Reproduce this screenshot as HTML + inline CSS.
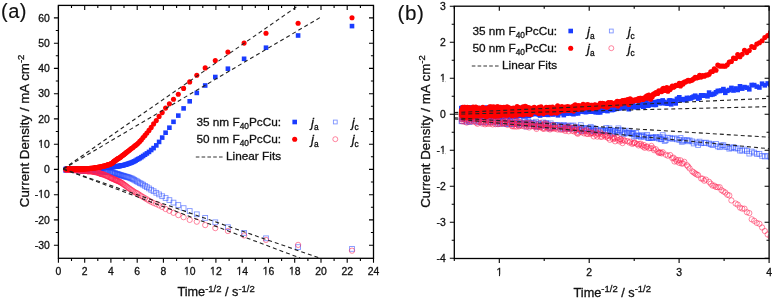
<!DOCTYPE html>
<html><head><meta charset="utf-8"><style>html,body{margin:0;padding:0;background:#fff;width:774px;height:299px;overflow:hidden}
svg{display:block;will-change:transform}
text{font-family:"Liberation Sans", sans-serif;fill:#111;stroke:#111;stroke-width:0.3px}
.tl{font-size:10.4px}
.lg{font-size:11.8px}
.sub{font-size:8.3px}
.sup{font-size:9.5px}
.at{font-size:12.7px}
.at2{font-size:13.3px}
.pl{font-size:20px;letter-spacing:0.5px;stroke-width:0.15px}
</style></head><body>
<svg width="774" height="299" viewBox="0 0 774 299">
<defs><marker id="mbs" markerUnits="userSpaceOnUse" markerWidth="8" markerHeight="8" refX="4" refY="4" overflow="visible"><rect x="1.7000000000000002" y="1.7000000000000002" width="4.6" height="4.6" fill="#1a3cff"/></marker>
<marker id="mrc" markerUnits="userSpaceOnUse" markerWidth="8" markerHeight="8" refX="4" refY="4" overflow="visible"><circle cx="4" cy="4" r="2.55" fill="#ff0000"/></marker>
<marker id="mos" markerUnits="userSpaceOnUse" markerWidth="8" markerHeight="8" refX="4" refY="4" overflow="visible"><rect x="1.6" y="1.6" width="4.8" height="4.8" fill="none" stroke="#2a4cff" stroke-width="0.9" stroke-opacity="0.6"/></marker>
<marker id="moc" markerUnits="userSpaceOnUse" markerWidth="8" markerHeight="8" refX="4" refY="4" overflow="visible"><circle cx="4" cy="4" r="2.65" fill="none" stroke="#ff2050" stroke-width="0.9" stroke-opacity="0.6"/></marker><clipPath id="ca"><rect x="58.3" y="5.3" width="315.4" height="252.7"/></clipPath><clipPath id="cb"><rect x="454.3" y="6" width="314.7" height="252"/></clipPath></defs>
<rect width="774" height="299" fill="#fff"/>
<g clip-path="url(#ca)">
<path fill="none" stroke="none" marker-start="url(#mos)" marker-mid="url(#mos)" marker-end="url(#mos)" d="M352.0 248.9 298.1 247.1 266.0 238.3 244.1 232.9 227.9 227.2 215.3 222.3 205.2 217.9 196.8 214.3 189.7 211.0 183.6 208.1 178.3 205.0 173.5 202.6 169.4 200.1 165.6 198.0 162.2 196.2 159.1 194.4 156.3 192.8 153.6 191.2 151.2 189.8 149.0 188.4 146.9 187.1 145.0 185.9 143.1 184.7 141.4 183.7 139.8 183.1 138.3 182.2 136.9 181.3 135.5 180.6 134.2 179.8 133.0 179.2 131.8 178.5 130.7 178.3 129.6 177.8 128.6 177.3 127.6 177.1 126.7 176.8 125.8 176.6 124.9 176.4 124.0 176.0 123.2 175.8 122.5 175.7 121.7 175.5 121.0 175.2 120.3 175.1 119.6 174.8 119.0 174.6 118.3 174.4 117.7 174.2 117.1 174.0 116.5 173.8 115.4 173.5 114.9 173.3 114.4 173.2 113.4 173.0 112.9 172.7 112.0 172.7 111.6 172.5 110.7 172.3 109.9 172.3 109.5 172.2 108.7 172.1 108.0 172.2 107.3 171.9 106.7 172.0 106.3 171.8 106.0 171.8 105.1 171.8 104.5 171.7 103.7 171.7 103.2 171.5 102.4 171.5 101.7 171.4 101.0 171.4 100.3 171.4 99.7 171.3 98.9 171.2 98.2 171.3 98.0 171.1 97.6 171.2 97.1 171.1 96.9 171.1 96.6 171.2 96.1 171.0 95.8 171.2 95.5 171.0 95.1 171.2 94.8 171.1 94.1 171.0 93.4 171.1 92.6 171.0 92.0 170.9 91.3 170.8 90.6 170.7 89.9 170.7 89.2 170.6 88.9 170.4 88.5 170.7 87.8 170.5 87.6 170.4 87.1 170.4 87.0 170.6 86.4 170.5 86.2 170.4 85.7 170.5 85.7 170.4 85.0 170.5 85.0 170.4 84.3 170.4 84.3 170.5 83.6 170.5 83.6 170.4 82.9 170.4 82.8 170.5 82.2 170.4 81.6 170.5 81.5 170.3 80.9 170.5 80.8 170.2 80.1 170.3 79.4 170.2 78.7 170.1 78.0 170.1 77.3 170.2 76.6 170.0 75.9 170.1 75.2 170.0 74.5 170.2 73.8 169.8 73.1 169.9 72.5 169.7 72.4 170.0 72.3 169.7 71.7 169.9 71.7 169.7 71.0 169.9 71.0 169.7 70.3 169.8 70.3 169.7 69.6 169.7 69.6 169.8 68.9 169.8 68.9 169.7 68.2 169.8 68.2 169.6 67.5 169.8 67.5 169.6 66.8 169.8 66.8 169.6 66.1 169.7 66.1 169.9"/>
<path fill="none" stroke="none" marker-start="url(#mbs)" marker-mid="url(#mbs)" marker-end="url(#mbs)" d="M352.0 26.1 298.1 35.5 266.0 47.7 244.1 58.8 227.9 68.7 215.3 77.0 205.2 85.5 196.8 92.9 189.7 101.3 183.6 108.4 178.3 115.6 173.5 121.8 169.4 127.7 165.6 132.7 162.2 137.6 159.1 141.9 156.3 145.4 153.6 148.1 151.2 150.0 149.0 151.9 146.9 153.4 145.0 154.7 143.1 156.0 141.4 157.2 139.8 158.2 138.3 159.0 136.9 159.7 135.5 160.7 134.2 161.4 133.0 161.9 131.8 162.5 130.7 162.9 129.6 163.2 128.6 163.6 127.6 164.0 126.7 164.2 125.8 164.7 124.9 164.7 124.0 165.1 123.2 165.3 122.5 165.3 121.7 165.5 121.0 165.7 120.3 165.9 119.6 166.0 119.0 166.1 118.3 166.1 117.7 166.2 117.1 166.4 116.5 166.4 115.4 166.7 114.9 166.7 114.4 166.8 113.4 167.0 112.9 167.0 112.0 167.1 111.6 167.1 110.7 167.2 109.9 167.3 109.5 167.5 108.7 167.4 108.0 167.7 107.7 167.5 107.3 167.5 106.7 167.4 106.3 167.7 106.0 167.6 105.7 167.7 105.1 167.7 104.5 167.9 104.2 167.6 103.7 167.8 103.2 167.9 102.4 168.0 101.7 168.1 101.0 168.1 100.3 168.2 99.7 168.2 98.9 168.3 98.7 168.4 98.2 168.3 98.0 168.4 97.6 168.3 97.3 168.6 96.9 168.5 96.1 168.7 95.5 168.5 94.8 168.5 94.1 168.7 93.4 168.8 92.6 168.9 92.0 168.8 91.3 168.9 90.6 168.8 89.9 168.8 89.2 168.9 88.5 169.0 88.2 169.1 87.8 168.9 87.4 169.1 87.1 169.0 87.0 169.1 86.4 169.2 86.1 169.0 85.7 169.1 85.0 169.2 85.0 169.0 84.3 169.1 84.1 169.0 83.6 169.1 83.3 169.0 82.9 169.1 82.6 169.0 82.2 169.3 81.5 169.3 81.2 169.0 80.8 169.3 80.4 169.0 80.1 169.2 79.4 169.2 78.7 169.0 78.7 169.4 78.0 169.3 77.6 169.0 77.3 169.4 76.7 169.0 76.6 169.3 75.9 169.4 75.6 169.0 75.2 169.1 75.1 169.0 74.5 169.1 74.4 169.0 73.8 169.4 73.3 169.0 73.1 169.3 72.9 169.0 72.4 169.3 72.1 169.0 71.7 169.4 71.7 169.0 71.0 169.3 70.8 169.0 70.3 169.1 70.2 169.0 69.6 169.3 69.5 169.0 68.9 169.2 68.9 169.0 68.2 169.4 68.2 169.0 67.5 169.2 67.5 169.0 66.8 169.0 66.8 169.3 66.1 169.2 66.1 169.0"/>
<path fill="none" stroke="none" marker-start="url(#moc)" marker-mid="url(#moc)" marker-end="url(#moc)" d="M352.0 250.7 298.1 244.9 266.0 239.9 244.1 235.5 227.9 231.0 215.3 228.1 205.2 225.1 196.8 221.7 189.7 219.9 183.6 217.2 178.3 215.1 173.5 212.8 169.4 210.8 165.6 209.0 162.2 207.0 159.1 205.4 156.3 204.1 153.6 203.0 151.2 201.8 149.0 200.6 146.9 199.3 145.0 198.2 143.1 197.0 141.4 196.0 139.8 195.1 138.3 194.0 136.9 193.1 135.5 192.6 134.2 191.8 133.0 191.0 131.8 190.1 130.7 189.5 129.6 188.7 128.6 188.0 127.6 187.3 126.7 186.6 125.8 185.9 124.9 185.2 124.0 184.7 123.2 184.1 122.5 183.5 121.7 182.9 121.0 182.6 120.3 182.2 119.6 181.8 119.0 181.4 118.3 181.2 117.7 180.8 117.1 180.7 116.5 180.3 116.0 180.1 115.4 180.0 114.9 179.7 114.4 179.4 113.4 179.0 112.9 178.7 112.0 178.5 111.6 178.3 111.1 178.0 110.7 177.8 109.9 177.3 109.5 177.1 108.7 176.9 108.0 176.3 107.3 176.0 106.7 176.0 106.0 175.7 105.1 175.1 104.5 174.9 103.7 174.5 103.2 174.5 102.4 174.3 101.7 174.0 101.2 173.9 101.0 173.9 100.3 173.6 99.7 173.4 99.3 173.2 98.9 173.0 98.2 172.9 97.6 172.6 96.9 172.4 96.1 172.3 95.5 172.1 94.8 172.1 94.3 171.8 94.1 171.9 94.0 171.8 93.4 171.8 92.6 171.6 92.0 171.5 91.3 171.4 90.6 171.3 89.9 171.3 89.3 171.1 89.2 171.2 88.8 171.0 88.5 171.1 88.4 171.3 87.8 171.1 87.7 171.2 87.1 171.1 86.4 170.8 85.7 170.9 85.0 170.7 84.3 170.7 83.6 170.7 82.9 170.6 82.7 170.3 82.2 170.5 82.1 170.4 81.5 170.6 81.5 170.4 80.8 170.4 80.8 170.5 80.1 170.4 80.0 170.5 79.4 170.3 78.9 170.5 78.7 170.3 78.0 170.4 77.3 170.2 76.6 170.3 75.9 170.2 75.2 170.2 74.5 170.1 73.8 170.0 73.1 169.9 72.4 170.0 71.7 169.9 71.7 169.7 71.0 170.0 70.7 169.7 70.3 169.9 70.3 169.7 69.6 169.9 69.6 169.7 68.9 169.8 68.9 169.7 68.2 169.8 68.2 169.7 67.5 169.7 67.5 169.8 66.8 169.9 66.8 169.7 66.1 169.8 66.1 169.7"/>
<path fill="none" stroke="none" marker-start="url(#mrc)" marker-mid="url(#mrc)" marker-end="url(#mrc)" d="M352.0 17.7 298.1 23.2 266.0 33.2 244.1 43.1 227.9 52.1 215.3 60.6 205.2 67.9 196.8 75.2 189.7 81.9 183.6 88.4 178.3 94.3 173.5 99.2 169.4 103.8 165.6 108.1 162.2 112.6 159.1 116.4 156.3 120.6 153.6 123.9 151.2 127.4 149.0 130.4 146.9 133.0 145.0 135.4 143.1 137.6 141.4 139.8 139.8 141.4 138.3 143.1 136.9 144.2 135.5 145.4 134.2 146.3 133.0 147.5 131.8 148.2 130.7 149.1 129.6 150.1 128.6 150.7 127.6 151.5 126.7 152.2 125.8 152.9 124.9 153.8 124.0 154.4 123.2 155.0 122.5 155.5 121.7 156.0 121.0 156.7 120.3 157.2 119.6 157.7 119.0 158.1 118.3 158.5 117.7 158.9 117.1 159.1 116.5 159.7 116.0 160.1 115.4 160.4 114.9 160.9 114.4 161.2 113.9 161.6 113.4 161.9 112.9 162.5 112.0 163.2 111.6 163.5 110.7 163.9 109.9 164.2 109.5 164.4 108.7 164.7 108.0 164.9 107.3 164.9 106.7 165.4 106.0 165.5 105.4 165.7 105.1 165.7 104.5 166.0 103.7 166.0 103.2 166.3 102.9 166.2 102.4 166.4 101.7 166.6 101.0 166.8 100.3 166.9 99.7 167.0 98.9 167.1 98.2 167.2 97.6 167.4 96.9 167.5 96.5 167.7 96.1 167.8 96.0 167.5 95.5 167.6 95.2 167.8 94.8 167.8 94.1 168.0 93.4 168.1 92.6 168.3 92.5 168.4 92.0 168.4 91.9 168.3 91.3 168.4 90.6 168.3 90.5 168.5 89.9 168.4 89.2 168.6 88.5 168.7 87.8 168.6 87.1 168.7 86.4 168.7 85.7 168.8 85.0 168.9 84.3 168.8 83.6 169.0 82.9 168.9 82.9 169.1 82.2 169.0 82.0 169.1 81.5 169.0 81.5 169.1 80.8 168.9 80.5 169.1 80.1 169.1 80.0 168.8 79.4 169.3 79.4 169.0 78.7 169.0 78.7 169.1 78.0 169.1 77.8 169.0 77.3 169.0 77.3 169.3 76.6 168.9 76.6 169.1 75.9 169.0 75.9 169.1 75.2 169.3 75.1 169.0 74.5 169.2 74.5 169.0 73.8 169.4 73.7 169.0 73.1 169.3 73.1 169.0 72.4 169.4 72.4 169.0 71.7 169.0 71.7 169.1 71.0 169.3 71.0 169.0 70.3 169.1 70.3 169.0 69.6 169.2 69.6 169.0 68.9 169.1 68.9 169.0 68.2 169.2 68.1 169.0 67.5 169.2 67.5 169.0 66.8 169.3 66.8 169.0 66.1 169.3 66.1 169.0"/>
</g>
<line x1="63.2" y1="169.0" x2="298.6" y2="5.4" stroke="#222" stroke-width="1.1" stroke-dasharray="4 3"/>
<line x1="63.2" y1="169.0" x2="321.5" y2="16.7" stroke="#222" stroke-width="1.1" stroke-dasharray="4 3"/>
<line x1="63.2" y1="169.0" x2="319.5" y2="258.0" stroke="#222" stroke-width="1.1" stroke-dasharray="4 3"/>
<line x1="63.2" y1="169.0" x2="300.1" y2="258.0" stroke="#222" stroke-width="1.1" stroke-dasharray="4 3"/>
<g clip-path="url(#cb)">
<path fill="none" stroke="none" marker-start="url(#mos)" marker-mid="url(#mos)" marker-end="url(#mos)" d="M773.5 158.6 770.5 157.1 767.7 155.9 764.8 156.5 762.1 155.9 759.4 153.8 756.8 153.9 754.2 152.6 751.7 151.5 749.3 153.6 746.9 151.0 744.5 149.5 742.2 150.6 740.0 150.6 737.7 148.4 735.6 148.4 733.5 147.1 731.4 148.0 729.3 148.7 727.3 146.8 725.3 146.8 723.4 145.2 721.5 145.5 719.7 147.2 717.8 146.4 716.0 143.9 712.5 145.1 710.8 144.2 709.1 143.5 705.9 142.6 704.3 143.1 701.1 143.2 699.6 141.6 698.1 145.0 696.6 142.5 693.7 143.5 692.3 141.4 689.6 140.4 688.2 141.3 686.9 140.2 684.3 140.1 683.0 141.3 681.8 141.8 680.5 138.0 679.3 139.9 676.9 139.3 674.5 138.2 672.3 138.9 670.1 138.1 667.9 137.7 665.8 140.0 664.7 141.0 663.7 137.4 662.7 135.1 661.7 139.1 660.7 139.3 659.7 137.1 658.8 138.6 656.9 137.9 655.9 136.9 653.2 137.4 652.3 138.1 651.4 137.4 650.6 138.0 648.9 138.0 648.0 137.9 647.2 134.9 646.3 136.5 643.9 136.6 642.3 135.4 641.6 135.4 640.8 136.9 639.3 135.9 637.0 135.3 636.3 132.8 635.6 135.8 634.2 136.6 633.5 134.0 632.8 132.8 632.1 134.0 630.7 133.2 629.4 132.4 628.8 130.7 627.5 133.4 626.8 132.8 624.9 132.3 623.7 134.0 622.5 132.5 620.7 130.1 620.2 131.0 618.4 128.3 617.9 130.2 617.3 132.5 615.1 130.8 614.6 131.5 613.0 133.8 612.5 130.7 612.0 132.6 610.4 129.9 609.9 131.7 609.4 128.3 608.0 129.9 607.5 131.1 606.1 128.0 605.6 131.3 605.1 130.4 603.3 130.6 602.4 131.3 601.1 130.2 598.5 130.3 597.7 131.0 596.1 128.9 594.9 131.6 593.7 130.8 593.3 128.2 592.9 129.9 591.4 128.7 591.0 130.9 590.7 126.8 588.9 128.4 588.5 129.2 586.7 129.2 585.7 128.0 584.4 130.5 583.7 128.3 581.8 129.0 581.5 127.8 581.2 131.1 580.8 125.1 579.3 130.2 579.0 127.3 576.9 127.6 576.6 128.7 574.6 127.5 574.1 128.6 573.5 125.5 572.2 128.4 571.4 125.7 569.8 128.1 568.8 129.0 568.1 125.5 567.6 127.9 565.7 125.9 565.2 127.0 564.7 128.6 563.8 124.9 562.7 128.4 562.0 126.0 560.7 128.7 560.3 126.1 560.1 125.5 558.0 126.4 557.8 124.9 555.4 125.0 555.2 127.0 553.2 126.9 553.0 125.1 550.7 123.3 550.5 127.7 550.3 125.1 549.5 128.4 548.3 126.4 548.1 124.4 546.2 123.5 545.9 123.2 545.7 125.1 545.4 126.1 543.6 125.0 543.3 122.5 541.1 125.4 539.8 126.6 538.7 124.0 538.6 123.4 536.7 127.0 536.4 124.3 536.3 126.0 536.1 121.7 533.9 125.4 533.8 122.9 533.6 126.0 531.5 123.8 531.4 122.6 529.2 122.5 528.9 124.2 528.1 121.2 526.7 122.3 526.6 124.5 526.5 126.6 525.1 120.8 524.4 123.7 524.3 120.4 524.1 123.1 521.9 123.4 521.2 123.7 519.5 125.2 519.5 122.5 519.4 120.3 517.1 122.7 516.9 124.0 516.0 119.7 514.7 122.9 514.6 120.9 513.8 124.2 512.4 122.6 512.0 120.9 511.8 124.1 509.9 123.9 509.9 120.0 509.8 121.8 507.6 121.1 507.5 122.6 506.8 124.1 506.2 118.0 505.2 119.5 505.1 122.9 504.6 118.3 504.2 123.8 502.8 121.5 502.7 118.7 502.7 121.2 500.4 119.7 500.2 117.9 500.1 122.3 499.4 123.7 498.0 119.4 497.9 121.3 497.8 118.0 497.3 123.8 495.6 121.1 495.6 118.1 495.5 121.5 493.2 117.9 493.2 121.0 493.1 122.4 490.8 117.6 490.8 121.4 490.7 119.6 488.4 117.6 488.3 118.9 488.3 122.3 486.0 118.5 485.9 119.5 485.9 121.4 485.2 116.3 483.6 119.1 483.6 121.9 483.5 118.5 482.6 116.1 481.2 119.0 481.0 122.5 481.0 118.8 480.5 115.9 478.8 118.7 478.8 119.6 478.5 122.2 478.2 115.8 476.4 118.2 476.3 119.5 476.1 116.2 475.5 121.2 474.0 116.9 474.0 120.4 473.8 115.4 471.6 119.0 471.6 116.0 471.5 118.1 469.8 121.8 469.2 117.7 469.2 119.9 469.0 116.0 468.9 121.7 466.8 117.8 466.8 120.2 466.7 121.6 466.5 116.1 464.4 115.9 464.4 117.4 464.4 119.1 462.2 121.3 462.0 118.1 462.0 114.9 462.0 119.0 461.5 121.2"/>
<path fill="none" stroke="none" marker-start="url(#mbs)" marker-mid="url(#mbs)" marker-end="url(#mbs)" d="M773.5 81.7 770.5 84.9 767.7 83.5 764.8 85.3 762.1 83.7 759.4 87.5 756.8 86.6 754.2 85.1 751.7 85.0 749.3 89.3 746.9 87.7 744.5 87.1 742.2 88.6 740.0 86.3 737.7 90.0 735.6 88.5 733.5 90.5 731.4 87.9 729.3 90.0 727.3 90.8 725.3 92.8 723.4 89.1 721.5 90.6 719.7 91.0 717.8 90.9 716.0 92.3 714.3 93.8 712.5 94.4 710.8 94.8 709.1 92.6 707.5 96.3 705.9 95.6 704.3 95.7 702.7 95.3 701.1 95.3 699.6 97.7 698.1 98.6 696.6 96.9 695.2 95.7 693.7 96.6 692.3 97.5 690.9 98.4 689.6 98.0 688.2 98.9 686.9 97.9 685.6 100.1 684.3 99.2 683.0 99.8 681.8 99.2 680.5 99.8 679.3 97.3 678.1 98.8 676.9 99.0 675.7 103.4 674.5 101.5 673.4 102.0 672.3 100.8 671.2 104.3 670.1 100.4 669.0 100.7 667.9 103.6 666.8 103.4 665.8 103.3 664.7 102.5 663.7 101.9 662.7 100.4 661.7 103.2 660.7 102.2 659.7 103.0 658.8 101.2 657.8 102.5 656.9 101.9 655.9 104.9 655.0 104.0 654.1 104.9 653.2 102.2 652.3 103.3 651.4 104.6 649.7 103.8 648.9 105.3 648.0 105.7 647.2 104.1 646.3 101.9 645.5 105.2 644.7 105.6 643.9 106.5 643.1 106.7 642.3 104.6 641.6 104.3 640.8 105.4 640.0 105.1 639.3 105.4 637.8 107.6 637.0 106.4 636.3 105.8 635.6 106.9 634.9 106.6 634.2 107.1 633.5 106.6 632.8 105.3 632.1 106.8 631.4 106.6 630.7 105.5 630.1 105.8 629.4 104.6 628.8 109.2 628.1 105.8 627.5 107.4 626.2 106.0 624.9 105.9 624.3 107.0 623.7 105.4 623.1 107.7 621.9 106.5 621.3 108.2 620.7 105.0 620.2 106.5 619.6 105.2 619.0 107.8 618.4 108.3 617.3 107.1 616.8 108.8 616.2 107.7 615.1 106.4 614.6 109.1 614.1 107.2 613.5 109.2 613.0 109.7 612.5 109.4 612.0 110.1 611.5 108.6 610.9 107.6 610.4 108.7 609.9 108.2 609.4 107.0 609.0 108.7 608.5 108.8 607.5 111.1 607.0 108.3 606.1 108.6 605.1 108.1 604.7 109.6 604.2 110.5 603.8 109.2 603.3 110.3 602.4 109.6 601.1 110.8 600.6 110.1 600.2 112.4 599.8 110.1 599.4 111.3 598.9 108.6 598.5 108.5 598.1 112.3 597.7 109.9 597.3 110.2 596.9 111.3 596.5 109.5 596.1 110.7 595.7 112.3 595.3 110.5 594.9 110.4 594.5 110.1 594.1 111.7 593.3 109.4 592.9 111.7 592.5 111.1 592.2 110.5 591.8 111.1 591.4 108.4 591.0 110.2 590.7 111.7 590.3 111.4 589.6 107.8 589.2 110.8 588.9 110.4 588.5 110.0 588.1 110.7 587.8 107.9 587.4 111.3 587.1 109.8 586.4 110.0 586.1 112.1 585.7 108.6 585.4 110.9 584.7 111.9 584.4 111.7 584.0 110.1 583.4 109.9 583.1 109.4 582.4 110.9 582.1 109.9 581.5 111.1 581.2 110.1 580.8 109.4 580.2 111.5 579.9 110.1 579.6 108.7 579.3 111.3 578.4 109.6 578.1 113.4 577.8 110.7 577.2 112.2 576.9 109.3 576.6 110.5 576.3 111.9 576.1 110.9 575.8 113.2 575.5 111.9 575.2 108.9 574.4 111.4 574.1 110.0 573.5 114.2 573.3 112.1 573.0 111.1 572.7 112.8 572.5 113.1 572.2 110.9 571.9 112.2 571.7 113.6 571.4 112.3 571.1 110.3 570.3 109.4 570.1 111.4 569.8 112.9 569.3 111.5 569.1 110.3 568.3 112.1 568.1 111.1 567.3 113.2 567.1 113.6 566.9 112.2 566.4 112.8 566.1 110.6 565.9 111.7 565.7 108.1 565.4 110.3 565.2 112.4 565.0 110.5 564.5 112.5 564.3 110.1 563.8 115.1 563.6 110.5 563.3 112.5 563.1 109.6 562.9 112.5 562.5 109.5 562.2 113.1 562.0 111.4 561.4 111.8 560.9 110.5 560.7 112.8 560.5 110.8 560.1 108.5 559.9 112.2 559.6 113.0 559.4 110.7 559.2 112.3 558.6 110.1 558.4 112.6 558.2 111.9 558.0 115.3 557.6 109.6 557.4 112.7 556.8 110.9 556.6 111.5 556.4 113.4 556.2 110.8 555.4 109.3 555.2 111.2 555.0 111.9 554.8 112.5 554.5 110.6 554.3 112.2 554.1 110.3 553.3 111.9 553.2 114.5 553.0 111.4 552.4 111.0 552.3 112.5 552.1 112.4 551.7 109.9 551.4 112.5 551.2 113.8 551.0 112.1 550.8 109.8 550.7 111.2 550.5 112.9 550.3 109.8 549.8 110.7 549.5 111.1 549.1 113.0 548.9 109.7 548.8 111.5 548.6 108.9 548.4 114.9 548.3 110.9 548.1 110.5 547.9 112.4 547.5 111.1 547.3 112.7 547.1 112.1 547.0 110.4 546.5 111.8 546.2 110.4 546.0 113.5 545.9 113.9 545.4 112.8 545.2 111.8 545.1 111.2 544.9 113.5 544.6 114.6 544.5 111.1 544.3 114.3 543.9 112.6 543.4 111.3 543.3 112.0 543.0 110.4 542.8 113.0 542.4 110.2 541.9 112.0 541.7 110.7 541.5 112.6 541.4 110.7 541.1 113.0 540.9 112.1 540.7 109.4 540.5 108.1 540.4 112.1 540.1 115.5 539.7 113.6 539.6 110.8 539.4 114.4 539.3 112.3 538.9 110.7 538.7 110.4 538.5 114.2 538.3 111.1 538.2 112.1 537.4 111.4 537.3 109.3 537.2 109.9 536.5 113.9 536.4 110.7 536.3 111.9 536.1 109.6 535.6 109.5 535.4 112.5 535.1 112.7 534.7 109.1 534.4 112.0 534.2 111.0 534.1 113.9 533.9 113.2 533.5 112.9 533.2 111.3 533.1 109.8 533.0 111.6 532.6 113.6 532.4 112.5 532.3 111.6 532.1 114.0 532.0 110.3 531.8 109.4 531.6 111.5 531.5 111.7 531.4 110.9 531.3 114.4 531.2 109.6 531.0 112.8 530.5 110.7 530.4 113.5 530.1 114.8 529.9 110.1 529.7 112.2 529.5 113.6 529.4 112.2 529.3 109.4 529.2 110.6 529.1 115.7 528.9 113.8 528.8 110.4 528.7 112.9 528.5 111.2 528.4 113.5 528.2 111.8 527.8 113.1 527.5 110.1 527.4 108.0 527.3 113.3 527.2 115.6 527.0 111.5 526.9 110.5 526.4 113.9 526.3 110.4 526.2 112.5 526.1 110.9 525.6 111.7 525.4 111.7 525.3 110.2 525.2 112.6 524.9 111.0 524.5 112.5 524.4 114.3 524.3 111.8 524.2 111.1 524.1 115.0 524.0 110.2 523.6 108.3 523.5 113.6 523.4 112.2 523.1 116.0 523.0 111.0 522.9 113.2 522.5 113.5 522.4 111.3 522.3 109.9 522.0 111.8 521.8 113.5 521.5 111.5 521.4 114.2 521.2 110.5 521.1 111.9 521.0 112.9 520.8 114.5 520.5 113.4 520.4 112.3 520.1 109.5 520.0 110.5 520.0 110.2 519.7 114.6 519.5 115.7 519.5 113.2 519.4 111.0 519.3 109.5 519.1 113.6 518.8 112.4 518.6 108.0 518.5 108.4 518.4 111.9 518.3 112.8 518.2 110.0 518.2 109.4 517.9 114.6 517.8 110.8 517.4 111.6 517.4 110.9 517.1 114.4 517.1 109.3 516.8 115.9 516.4 110.0 516.4 111.5 516.3 115.3 516.2 112.8 516.1 111.9 516.0 114.4 515.5 109.3 515.5 116.6 515.4 112.9 515.3 108.7 515.2 111.9 515.1 114.2 515.0 110.0 514.7 110.8 514.6 114.6 514.5 112.3 514.4 113.0 514.3 111.5 513.6 113.7 513.5 114.0 513.4 112.3 513.3 109.8 513.1 115.0 513.0 113.1 512.6 111.2 512.5 112.4 512.4 112.7 512.4 113.7 512.3 115.3 512.2 109.5 512.1 111.5 512.0 109.5 511.5 112.6 511.4 114.1 511.2 115.2 511.2 112.1 511.1 111.1 510.8 110.1 510.5 111.4 510.4 111.9 510.3 113.2 510.1 115.5 510.0 116.8 509.9 113.7 509.5 110.3 509.4 113.6 509.4 110.7 509.3 111.9 509.2 109.8 508.5 109.1 508.5 111.9 508.4 109.5 508.4 111.3 508.2 115.0 508.1 109.7 508.1 112.5 508.0 114.1 507.5 113.3 507.4 115.7 507.3 112.4 507.2 113.7 507.1 111.5 507.1 109.9 506.5 112.3 506.4 111.4 506.4 114.8 506.3 113.3 506.1 113.8 506.0 109.9 505.8 116.2 505.5 114.7 505.4 111.0 505.4 112.2 505.2 113.4 504.9 110.1 504.8 113.7 504.6 115.5 504.5 111.2 504.4 110.3 504.3 112.6 504.1 112.3 504.1 109.4 503.9 114.3 503.8 114.5 503.5 112.3 503.4 114.3 503.3 110.7 503.1 108.7 503.0 113.3 502.9 114.9 502.8 117.0 502.5 111.4 502.4 113.7 502.4 113.3 502.3 112.4 502.1 110.0 502.1 109.2 502.0 115.2 502.0 107.8 501.5 111.0 501.4 112.8 501.2 114.2 501.2 114.5 501.1 109.5 501.0 112.1 500.9 109.9 500.5 111.5 500.4 113.4 500.3 111.2 500.2 114.0 500.1 108.6 499.8 114.9 499.5 115.9 499.5 107.8 499.5 113.8 499.4 111.7 499.4 110.8 499.2 117.1 499.0 110.1 498.8 112.6 498.5 113.2 498.4 111.6 498.3 114.6 498.3 110.3 498.2 111.2 498.1 114.4 497.9 116.3 497.5 111.7 497.4 112.9 497.3 111.3 497.2 114.4 497.1 115.4 497.0 110.0 496.5 114.1 496.4 112.8 496.4 110.9 496.3 115.2 496.2 110.3 496.0 112.4 495.9 116.3 495.5 113.1 495.4 110.2 495.4 113.7 495.3 111.1 495.2 111.6 495.0 115.2 494.9 116.2 494.5 108.8 494.5 113.9 494.4 110.0 494.4 110.6 494.3 112.5 494.3 114.5 493.9 112.0 493.5 114.4 493.5 116.4 493.4 110.7 493.4 109.8 493.3 111.9 493.2 114.8 493.2 113.4 493.1 108.9 492.5 112.0 492.4 110.3 492.4 112.5 492.4 111.5 492.3 108.7 492.3 113.9 492.3 114.7 491.5 110.7 491.4 109.1 491.4 110.1 491.3 112.7 491.2 111.8 490.9 115.5 490.7 114.0 490.5 114.0 490.5 110.5 490.4 115.3 490.4 112.5 490.3 110.3 490.3 116.4 490.0 108.2 489.9 113.1 489.6 109.4 489.5 112.7 489.5 110.6 489.4 116.1 489.4 114.1 489.3 112.4 489.2 114.9 489.1 110.1 488.7 109.0 488.5 111.1 488.5 113.7 488.4 113.0 488.4 110.4 488.3 111.8 488.2 115.3 488.1 108.8 487.5 112.6 487.5 111.7 487.4 107.7 487.3 114.3 487.3 109.7 487.2 114.7 487.1 111.0 486.5 116.5 486.5 111.0 486.4 113.5 486.4 112.1 486.4 114.6 486.3 112.7 485.9 110.2 485.6 107.9 485.5 111.1 485.5 112.7 485.4 111.8 485.4 117.1 485.3 109.9 485.3 114.6 485.1 113.9 484.9 109.5 484.5 114.1 484.5 111.4 484.4 115.4 484.3 109.4 484.2 116.0 484.1 113.0 484.0 111.7 484.0 109.8 483.5 112.5 483.5 114.7 483.4 111.7 483.4 116.1 483.3 114.2 483.3 109.4 483.2 109.5 483.1 111.1 482.5 117.5 482.5 111.0 482.4 113.5 482.4 109.6 482.4 114.0 482.4 112.3 482.2 109.3 481.8 114.5 481.5 113.0 481.5 110.5 481.4 114.5 481.4 111.8 481.3 111.5 481.3 114.9 481.1 109.5 480.7 115.6 480.5 110.2 480.5 110.5 480.4 112.2 480.4 113.8 480.4 116.0 480.4 112.6 480.3 109.4 480.3 117.4 480.2 114.5 479.9 108.3 479.5 114.7 479.5 113.9 479.4 112.0 479.4 110.8 479.3 115.9 479.2 109.8 479.2 112.9 479.2 116.9 479.0 108.8 478.9 108.2 478.6 117.5 478.5 114.5 478.5 111.9 478.4 108.6 478.4 108.2 478.4 109.9 478.4 113.3 478.3 110.9 478.1 115.2 478.1 115.8 477.9 117.2 477.5 112.1 477.5 113.1 477.4 110.1 477.4 114.1 477.4 114.9 477.3 111.2 477.3 115.6 476.9 109.0 476.5 112.6 476.5 111.0 476.5 112.4 476.4 115.7 476.4 115.0 476.4 108.5 476.3 113.8 476.0 110.0 475.5 115.4 475.5 113.3 475.4 114.0 475.4 109.3 475.4 116.2 475.4 111.9 475.2 110.6 475.2 109.9 474.9 116.5 474.8 107.7 474.5 113.4 474.5 110.6 474.5 112.3 474.4 114.0 474.4 108.8 474.3 115.0 474.3 115.8 474.2 109.7 474.1 117.1 473.5 109.5 473.5 115.1 473.5 113.5 473.4 107.7 473.4 110.9 473.4 112.7 473.4 111.7 473.4 117.6 473.4 109.6 472.6 116.6 472.5 112.7 472.5 112.4 472.5 111.0 472.4 114.0 472.3 108.9 472.3 108.5 472.1 110.2 471.9 115.0 471.6 117.4 471.6 116.1 471.5 110.2 471.5 111.5 471.5 110.5 471.4 113.7 471.4 114.9 471.4 117.1 471.3 112.5 471.2 116.1 471.0 107.7 470.8 109.2 470.5 110.9 470.5 113.4 470.5 111.5 470.4 109.9 470.4 113.9 470.3 114.7 470.0 115.9 469.8 109.0 469.8 117.6 469.5 107.7 469.5 111.3 469.5 114.4 469.5 113.1 469.4 109.2 469.4 109.6 469.3 112.3 469.2 114.7 469.1 117.2 469.1 115.7 468.5 117.6 468.5 113.3 468.5 114.4 468.5 108.0 468.4 115.3 468.4 112.0 468.4 110.4 468.4 110.7 468.2 117.0 467.8 108.6 467.7 116.2 467.5 115.2 467.5 114.3 467.5 111.7 467.4 110.1 467.4 113.5 467.4 111.4 467.2 108.1 467.1 117.6 467.0 115.8 466.9 116.6 466.6 108.8 466.5 112.5 466.5 111.2 466.5 112.1 466.4 116.1 466.4 114.6 466.4 114.4 466.3 110.1 466.3 108.6 466.1 117.6 465.5 115.1 465.5 114.0 465.5 116.8 465.5 109.5 465.5 113.1 465.4 115.9 465.4 112.1 465.2 109.8 465.2 111.1 464.5 110.0 464.5 113.8 464.5 111.9 464.5 108.7 464.5 113.4 464.4 111.0 464.4 114.7 464.3 116.3 463.7 117.3 463.5 110.0 463.5 115.7 463.5 111.9 463.5 111.0 463.5 107.7 463.4 113.0 463.4 114.2 463.4 116.8 463.3 115.3 463.3 109.4 462.5 117.7 462.5 107.7 462.5 112.1 462.5 109.6 462.5 111.1 462.4 113.0 462.4 114.9 462.4 114.2 462.3 109.1 462.2 116.5 462.1 116.3 461.7 117.7 461.5 117.4 461.5 111.8 461.5 110.7 461.5 113.8 461.5 113.1 461.4 115.0 461.4 109.6 461.4 108.7 461.3 116.3 461.3 108.1"/>
<path fill="none" stroke="none" marker-start="url(#moc)" marker-mid="url(#moc)" marker-end="url(#moc)" d="M773.5 241.3 770.5 236.7 767.7 234.5 764.8 231.0 762.1 227.5 759.4 223.8 756.8 222.9 754.2 220.8 751.7 219.3 749.3 213.1 746.9 212.2 744.5 208.7 742.2 208.6 740.0 207.6 737.7 204.6 735.6 203.5 731.4 200.4 729.3 195.4 727.3 194.7 725.3 192.5 723.4 191.4 721.5 190.2 719.7 187.2 717.8 187.2 716.0 187.0 714.3 185.6 712.5 185.6 710.8 183.7 709.1 181.8 705.9 179.6 704.3 180.7 702.7 178.7 701.1 178.5 698.1 175.1 696.6 174.4 695.2 173.5 693.7 172.4 692.3 171.4 689.6 168.4 688.2 166.6 686.9 165.2 684.3 161.8 683.0 163.4 681.8 163.6 680.5 160.3 679.3 162.9 678.1 160.0 676.9 161.5 675.7 159.5 674.5 161.5 673.4 157.6 672.3 158.2 670.1 155.0 667.9 155.7 665.8 154.7 662.7 152.2 661.7 153.4 660.7 152.8 659.7 152.4 658.8 152.9 657.8 151.6 655.9 149.3 654.1 150.2 653.2 148.3 651.4 145.9 650.6 148.0 648.9 148.4 647.2 146.5 646.3 146.9 644.7 147.8 643.9 145.0 643.1 146.6 641.6 145.5 640.8 143.7 639.3 144.0 638.5 145.4 637.0 144.0 634.9 142.7 634.2 142.6 633.5 143.3 632.1 143.8 630.1 141.6 629.4 142.6 627.5 141.1 624.9 140.9 623.7 139.8 622.5 143.1 621.9 140.5 620.7 139.0 620.2 139.3 619.6 141.4 617.9 139.9 617.3 137.7 615.1 141.3 614.6 138.4 614.1 137.6 613.0 139.2 612.5 137.6 610.4 136.0 609.9 139.8 608.0 138.0 607.5 135.4 607.0 136.4 605.6 136.8 605.1 134.8 603.3 135.0 602.0 136.7 601.1 133.7 600.6 136.8 600.2 132.4 598.5 134.0 597.3 136.6 596.9 133.1 596.1 134.8 595.7 131.1 593.7 136.4 593.3 133.5 591.8 132.7 591.4 133.1 590.3 134.0 588.9 131.8 587.8 133.9 586.7 133.8 586.4 130.0 586.1 131.2 584.4 131.3 584.0 133.4 581.8 132.2 580.8 129.4 579.3 129.2 578.7 132.5 577.8 133.8 576.9 132.9 576.1 129.8 575.5 127.2 574.6 130.1 574.1 131.5 573.0 128.0 572.2 130.8 571.9 127.9 569.8 128.9 568.6 131.3 568.1 126.5 567.6 128.9 566.4 127.5 565.2 130.9 565.0 129.4 564.7 127.8 562.7 129.7 562.2 127.0 560.3 129.7 560.1 126.4 558.0 127.6 557.6 129.5 555.4 127.8 555.0 128.8 553.7 125.3 553.2 127.8 552.6 125.2 552.3 128.5 550.7 128.3 550.0 129.5 548.3 127.4 548.1 125.3 547.9 128.7 546.3 123.6 545.9 127.0 545.5 125.1 544.5 123.4 544.0 128.9 543.6 127.7 543.0 124.7 542.8 128.5 541.1 125.8 540.9 127.3 540.0 123.0 538.7 126.0 538.1 126.5 536.5 128.9 536.4 127.3 536.3 125.7 534.2 123.5 533.9 125.8 533.8 126.5 531.5 124.5 531.3 126.2 530.2 123.0 529.2 126.0 529.1 127.5 528.2 123.1 526.7 124.7 526.5 126.5 526.4 123.4 524.4 126.4 524.3 122.7 524.2 124.4 521.9 125.9 521.4 123.5 519.5 125.6 519.4 121.8 518.8 126.4 517.7 121.0 517.1 124.0 516.6 122.2 516.4 126.6 514.9 120.4 514.7 123.6 514.5 123.6 514.1 126.5 512.4 123.1 512.1 126.3 512.0 125.5 511.8 120.7 509.9 123.8 509.7 123.0 507.9 119.8 507.6 122.3 507.4 124.9 506.4 121.2 505.2 119.6 505.0 122.4 504.8 123.7 502.8 123.1 502.4 123.7 502.3 119.6 500.4 121.5 500.3 119.1 500.0 123.9 498.0 124.2 497.9 121.1 497.8 121.8 495.6 121.6 495.4 119.4 495.4 124.2 493.2 122.4 493.2 120.9 492.7 124.4 490.8 122.5 490.7 120.0 490.2 123.8 488.4 121.9 488.4 120.3 487.7 123.9 487.5 118.3 486.0 123.2 485.9 120.4 485.0 118.6 485.0 124.3 483.6 121.8 483.5 119.2 482.6 118.8 482.2 123.6 481.2 119.9 481.1 118.6 481.1 122.0 478.8 121.7 478.8 121.0 478.4 118.6 477.5 123.8 476.4 122.7 476.3 118.8 476.2 117.6 474.0 119.1 474.0 121.7 473.7 118.6 471.6 119.7 471.5 117.7 471.5 121.4 469.2 118.9 469.2 118.7 469.1 121.4 466.8 119.9 466.8 117.6 466.7 122.6 465.9 116.3 464.4 119.3 464.4 118.4 464.3 121.7 463.8 116.2 462.0 121.3 462.0 119.3 461.9 118.1 461.5 116.0"/>
<path fill="none" stroke="none" marker-start="url(#mrc)" marker-mid="url(#mrc)" marker-end="url(#mrc)" d="M773.5 29.6 770.5 32.5 767.7 35.6 764.8 37.5 762.1 40.7 759.4 42.8 756.8 44.1 754.2 47.4 751.7 46.5 749.3 50.5 746.9 52.6 744.5 50.2 742.2 54.2 740.0 56.8 737.7 54.6 735.6 58.5 733.5 58.0 731.4 61.5 729.3 62.0 727.3 64.8 725.3 66.2 723.4 66.1 721.5 66.1 719.7 66.1 717.8 65.1 716.0 70.2 714.3 68.7 712.5 71.5 710.8 71.8 709.1 74.2 707.5 75.0 705.9 75.0 704.3 76.2 702.7 75.5 701.1 77.1 699.6 75.4 698.1 77.4 696.6 78.0 695.2 77.4 693.7 78.7 692.3 79.9 690.9 80.5 689.6 81.1 688.2 80.2 686.9 81.0 685.6 82.0 684.3 82.0 683.0 84.1 681.8 83.3 680.5 86.0 679.3 83.2 678.1 85.1 676.9 85.5 675.7 85.4 674.5 86.6 673.4 87.3 672.3 86.0 671.2 87.7 670.1 89.4 669.0 88.2 667.9 91.2 666.8 87.6 665.8 90.2 664.7 90.4 663.7 88.2 662.7 88.7 661.7 91.6 660.7 91.4 659.7 91.2 658.8 90.9 657.8 93.4 656.9 93.5 655.9 92.6 655.0 94.1 654.1 93.9 653.2 94.4 652.3 96.8 651.4 96.8 650.6 99.2 649.7 96.7 648.9 95.1 648.0 98.3 647.2 95.8 646.3 96.3 645.5 97.8 644.7 98.0 643.9 98.1 643.1 99.4 642.3 99.0 640.8 98.3 640.0 98.2 639.3 100.2 638.5 98.5 637.8 100.6 637.0 100.0 636.3 99.5 634.9 100.4 634.2 100.0 633.5 101.1 632.1 101.0 631.4 99.7 630.7 101.1 630.1 98.8 629.4 100.9 628.8 104.4 628.1 101.9 627.5 99.5 626.8 101.6 626.2 102.2 625.6 102.8 624.9 100.3 624.3 100.8 623.1 101.7 622.5 100.5 621.9 101.4 621.3 103.9 620.7 101.6 620.2 102.4 619.6 102.8 619.0 101.9 618.4 102.9 617.9 106.1 617.3 101.2 616.8 101.9 616.2 103.4 615.7 103.8 615.1 103.2 614.6 105.0 614.1 103.2 613.5 103.9 613.0 104.2 612.5 104.9 611.5 102.7 610.9 102.5 610.4 103.5 609.4 105.3 609.0 103.5 608.5 102.5 608.0 106.4 607.5 103.2 607.0 107.2 606.5 105.1 606.1 104.3 605.6 106.5 605.1 106.7 604.7 104.8 604.2 104.0 603.8 105.7 603.3 103.6 602.9 106.1 602.4 103.2 602.0 105.2 601.1 104.7 600.2 103.3 599.4 105.0 598.9 105.9 598.5 107.1 598.1 106.7 597.7 105.8 597.3 106.0 596.5 106.0 596.1 105.4 595.7 107.7 595.3 107.3 594.9 104.8 594.5 105.2 594.1 106.9 593.3 107.1 592.5 108.6 592.2 105.4 591.8 106.5 591.4 105.3 591.0 105.7 590.3 106.4 589.9 105.3 589.6 106.9 589.2 106.9 588.5 105.9 587.8 104.6 587.4 107.0 587.1 105.4 586.7 107.8 586.4 106.3 586.1 106.9 585.7 105.0 585.4 106.4 585.0 107.7 584.4 106.8 584.0 107.6 583.4 108.5 583.1 104.2 582.7 107.2 582.4 106.2 582.1 108.9 581.5 107.7 580.8 106.5 580.5 108.8 580.2 106.9 579.9 105.7 579.6 108.8 579.3 106.5 579.0 108.9 578.4 107.3 578.1 105.6 577.8 108.7 577.5 107.6 577.2 106.6 576.9 109.4 576.6 107.9 576.3 109.1 575.8 107.1 575.5 107.1 575.2 104.8 574.9 106.3 574.4 108.3 574.1 108.5 573.5 111.1 573.3 106.1 573.0 109.1 572.7 109.6 572.5 108.9 572.2 107.2 571.4 107.8 570.9 109.7 570.3 108.4 570.1 110.5 569.8 107.1 569.3 108.2 569.1 110.0 568.3 107.7 568.1 110.3 567.8 108.9 567.6 106.6 567.3 109.6 567.1 108.8 566.9 107.9 566.4 108.1 566.1 109.7 565.7 108.7 565.4 110.1 565.2 107.0 565.0 109.0 564.5 110.2 564.0 109.1 563.6 107.5 563.3 110.8 563.1 109.5 562.9 107.4 562.5 108.5 562.2 106.9 562.0 108.6 561.4 106.7 561.1 107.7 560.9 110.1 560.5 110.7 560.3 107.7 559.9 109.4 559.6 109.7 559.4 111.7 559.2 108.2 559.0 109.4 558.8 109.7 558.4 110.2 557.8 111.2 557.6 105.9 557.4 109.6 557.0 108.1 556.8 113.0 556.6 109.4 556.4 109.4 556.2 110.7 555.8 112.3 555.4 108.2 555.2 112.6 555.0 111.5 554.8 109.7 554.5 110.5 554.3 109.1 553.9 111.6 553.3 112.7 553.0 108.3 552.8 109.9 552.6 107.0 552.4 111.9 552.3 110.3 552.1 109.3 551.4 110.7 551.2 113.2 550.8 107.4 550.7 108.8 550.5 107.9 550.3 110.7 550.1 110.1 549.8 109.3 549.5 109.2 549.3 107.3 549.1 111.1 548.8 111.9 548.6 108.3 548.4 110.6 548.3 110.0 547.9 107.5 547.5 111.7 547.3 109.6 547.1 111.2 546.6 109.0 546.5 111.0 546.3 109.0 546.2 107.4 546.0 112.2 545.9 108.0 545.4 109.1 545.2 112.1 545.1 109.5 544.9 110.5 544.5 111.3 543.9 110.4 543.7 111.8 543.4 109.4 543.3 113.6 543.1 109.9 543.0 111.3 542.8 111.9 542.4 111.3 542.2 109.7 542.1 112.1 541.9 108.7 541.4 112.1 541.2 108.6 541.1 106.9 540.9 110.9 540.7 110.4 540.4 110.5 540.2 110.9 540.1 109.1 539.7 107.9 539.4 109.1 539.3 111.2 539.1 107.3 539.0 108.1 538.9 113.4 538.7 111.8 538.5 108.7 538.3 108.3 538.2 110.6 538.1 109.8 537.8 112.1 537.4 109.9 537.2 112.0 536.7 110.6 536.5 108.6 536.4 110.8 536.3 112.1 536.0 110.5 535.8 108.4 535.6 109.4 535.4 109.3 535.3 110.5 535.0 110.7 534.8 111.8 534.4 109.7 534.3 107.4 534.1 108.7 533.6 111.2 533.5 110.4 533.3 110.7 533.1 108.1 532.8 109.2 532.5 112.1 532.4 111.7 532.3 109.6 532.0 111.1 531.7 108.9 531.6 112.6 531.5 110.7 531.4 112.4 531.0 108.4 530.9 114.5 530.6 109.9 530.5 109.1 530.4 111.6 530.3 110.5 530.2 109.6 529.6 112.8 529.5 108.2 529.4 110.0 529.3 114.2 529.2 111.7 529.1 107.7 528.8 113.1 528.7 110.8 528.6 108.7 528.5 109.8 528.4 110.9 528.2 111.6 528.1 109.1 527.7 107.8 527.4 113.3 527.3 108.7 527.1 110.5 527.0 114.1 526.9 111.4 526.7 107.1 526.4 109.2 526.3 108.3 526.2 112.3 525.9 110.9 525.7 110.3 525.4 111.9 525.3 107.1 525.2 111.4 525.2 106.4 525.1 107.9 524.9 109.0 524.8 109.6 524.7 113.0 524.5 110.7 524.4 110.0 524.3 111.9 523.6 114.7 523.5 108.1 523.4 110.5 523.2 109.2 523.1 112.6 523.0 106.9 522.9 112.4 522.6 110.6 522.5 112.9 522.4 110.1 522.3 114.7 522.2 111.0 522.0 108.1 521.8 111.9 521.5 109.7 521.4 112.8 521.3 111.0 520.9 111.6 520.7 109.4 520.5 112.4 520.4 113.4 520.3 109.4 520.2 108.4 520.1 110.1 520.0 111.5 519.5 110.5 519.4 107.9 519.3 112.2 519.2 111.5 519.1 114.2 519.0 112.5 518.5 110.5 518.4 110.1 518.3 112.7 518.2 112.1 518.2 107.8 518.1 109.1 517.4 110.8 517.3 109.3 517.2 112.4 517.1 106.6 517.1 112.5 516.6 115.2 516.4 112.5 516.4 111.3 516.3 110.0 516.1 108.3 516.0 109.1 515.8 112.5 515.5 113.2 515.4 111.9 515.3 109.3 515.3 109.8 515.1 113.9 515.0 111.3 514.5 109.5 514.4 110.6 514.3 112.9 514.2 108.7 514.0 113.6 513.8 112.0 513.5 109.4 513.4 108.1 513.3 114.0 513.3 112.2 513.2 109.7 513.0 115.3 513.0 110.7 512.5 111.8 512.4 110.5 512.3 112.7 512.2 109.2 512.0 115.4 512.0 110.7 511.7 113.5 511.5 111.8 511.4 108.5 511.4 110.2 511.2 113.2 510.8 108.2 510.6 113.6 510.5 110.5 510.4 110.1 510.3 112.3 510.3 113.9 510.1 113.3 510.1 108.7 509.4 109.2 509.4 114.4 509.3 110.1 509.3 111.4 509.2 112.4 508.9 112.7 508.8 107.7 508.5 109.8 508.4 107.8 508.3 111.3 508.2 111.9 507.6 113.1 507.5 111.7 507.4 110.7 507.3 115.2 507.2 108.1 507.2 109.7 507.1 106.7 507.0 112.7 506.8 109.5 506.5 109.3 506.4 111.6 506.4 109.8 506.3 111.4 506.3 114.0 505.5 114.7 505.5 110.9 505.4 114.2 505.4 112.4 505.3 109.9 505.2 108.9 505.2 113.1 504.5 113.4 504.4 111.5 504.3 114.9 504.3 110.4 504.2 112.3 503.9 108.5 503.9 107.4 503.8 113.8 503.5 112.2 503.4 108.9 503.4 110.5 503.3 111.5 503.3 108.1 503.1 112.6 502.5 110.6 502.4 109.8 502.4 113.4 502.3 107.8 502.3 114.5 502.2 108.9 501.7 112.1 501.5 111.0 501.4 109.0 501.3 110.4 501.2 112.7 501.2 112.0 501.0 107.8 500.8 115.5 500.7 114.9 500.6 107.2 500.5 110.5 500.4 111.0 500.4 112.8 500.3 113.5 500.2 111.8 500.1 108.2 499.9 107.5 499.8 109.2 499.6 115.3 499.5 112.3 499.5 111.0 499.4 109.9 499.3 115.2 499.1 113.5 499.0 113.8 498.8 109.4 498.7 107.5 498.5 111.9 498.4 110.2 498.3 111.3 498.2 112.8 498.1 115.9 498.0 106.7 498.0 113.9 497.5 111.9 497.4 110.5 497.4 108.6 497.2 111.2 497.2 113.3 497.1 114.0 497.0 106.9 496.5 113.9 496.4 110.1 496.4 109.0 496.4 112.1 496.3 112.8 496.2 110.9 496.0 115.3 495.8 108.3 495.5 113.0 495.4 114.2 495.4 112.3 495.4 111.1 495.2 115.3 495.2 110.2 495.1 108.1 494.9 116.2 494.5 109.8 494.4 110.9 494.4 112.8 494.4 109.4 494.3 107.9 494.2 112.1 493.8 115.1 493.6 106.7 493.5 110.6 493.5 109.7 493.4 114.0 493.3 112.1 493.3 115.3 493.2 115.6 493.1 112.7 492.6 109.4 492.5 110.9 492.4 109.1 492.4 111.7 492.3 113.0 492.3 109.9 492.2 107.6 492.1 113.9 491.8 115.6 491.5 113.9 491.4 114.5 491.3 110.7 491.3 109.9 491.2 115.8 491.2 109.4 491.1 106.9 490.9 112.9 490.6 111.5 490.5 113.4 490.4 111.1 490.4 113.6 490.4 110.4 490.3 111.6 490.1 108.9 489.6 106.8 489.5 111.6 489.5 114.2 489.4 110.5 489.4 108.2 489.4 108.5 489.3 113.0 489.1 110.9 489.0 115.6 488.8 114.6 488.5 110.1 488.4 115.0 488.4 111.1 488.3 114.1 488.3 112.2 488.2 113.3 487.7 108.3 487.6 109.1 487.5 110.6 487.5 112.7 487.4 112.4 487.3 110.4 487.1 113.7 486.8 115.9 486.5 112.9 486.5 110.8 486.4 108.7 486.4 111.8 486.4 110.1 486.3 114.2 486.2 116.6 485.8 108.4 485.6 114.9 485.5 111.2 485.5 110.5 485.4 112.0 485.4 109.2 485.3 113.5 485.2 115.2 485.1 113.6 484.5 111.1 484.5 114.6 484.4 108.7 484.3 108.2 484.3 112.3 484.3 109.7 484.2 113.9 484.2 113.0 483.5 110.3 483.5 114.8 483.4 111.6 483.4 113.6 483.4 111.4 483.2 108.9 483.2 108.4 483.1 112.9 482.8 107.3 482.5 114.4 482.5 108.9 482.4 115.4 482.4 111.9 482.4 112.9 482.4 111.3 482.2 110.0 482.2 108.3 481.5 111.5 481.5 110.8 481.4 109.0 481.3 110.5 481.2 112.6 481.1 114.1 480.9 115.4 480.9 108.5 480.6 115.7 480.5 112.9 480.5 110.7 480.4 109.2 480.4 112.4 480.3 115.6 480.3 110.0 480.0 114.2 479.9 108.3 479.5 108.7 479.5 114.7 479.5 109.8 479.4 112.3 479.4 108.3 479.4 110.8 479.3 113.8 479.3 112.5 478.5 110.7 478.5 110.3 478.5 111.5 478.4 108.9 478.4 112.7 478.4 113.8 478.0 108.0 477.9 114.7 477.6 115.9 477.5 111.1 477.5 113.0 477.4 109.3 477.4 112.2 477.4 114.6 477.4 114.2 477.3 109.8 476.5 112.0 476.5 109.4 476.4 114.9 476.4 112.6 476.4 110.8 476.3 109.6 476.2 115.5 476.1 114.0 475.8 107.0 475.5 114.7 475.5 113.5 475.5 111.3 475.4 113.3 475.4 112.3 475.4 109.7 475.3 109.0 474.9 115.7 474.6 108.3 474.5 112.7 474.5 110.5 474.5 114.9 474.4 109.3 474.4 115.9 474.4 113.9 474.4 112.3 474.3 108.4 473.8 110.1 473.5 112.6 473.5 112.2 473.5 108.4 473.4 114.1 473.4 111.1 473.3 110.4 473.3 109.5 473.2 116.0 473.1 107.0 473.0 114.8 472.5 112.5 472.5 108.6 472.5 109.9 472.4 111.1 472.4 116.2 472.4 108.2 472.3 112.1 472.3 114.6 472.3 114.3 472.2 117.0 471.5 110.2 471.5 113.2 471.5 111.8 471.5 110.8 471.4 114.5 471.3 109.1 471.2 114.8 470.9 116.5 470.5 111.7 470.5 110.5 470.5 109.0 470.4 114.4 470.4 112.6 470.3 111.3 470.3 108.3 470.1 114.8 470.1 115.7 469.9 116.8 469.5 111.4 469.5 112.2 469.5 113.4 469.4 114.8 469.4 115.7 469.4 107.9 469.3 113.7 469.2 117.0 469.2 110.2 468.5 114.1 468.5 109.7 468.5 107.9 468.5 111.5 468.4 109.5 468.4 112.1 468.4 113.1 468.3 116.9 468.1 116.2 467.9 114.9 467.5 112.8 467.5 115.1 467.5 110.0 467.4 111.3 467.4 111.6 467.4 107.3 467.4 108.6 467.3 114.4 467.3 108.4 467.1 115.7 466.5 112.0 466.5 110.6 466.4 113.1 466.4 114.2 466.3 109.8 466.2 109.0 466.1 115.6 466.1 114.6 466.1 117.1 465.5 113.3 465.5 111.4 465.5 114.7 465.5 114.3 465.4 110.2 465.4 111.6 465.3 108.7 465.0 107.5 465.0 107.2 464.5 115.1 464.5 114.2 464.5 113.0 464.5 116.3 464.5 112.3 464.4 110.7 464.4 110.4 464.3 109.0 464.3 116.9 464.3 107.2 464.3 107.6 463.5 110.5 463.5 110.8 463.5 108.2 463.4 113.8 463.4 112.1 463.4 115.1 463.4 112.9 463.3 109.0 463.0 117.0 462.9 115.9 462.8 107.3 462.5 112.8 462.5 111.4 462.5 114.4 462.5 110.4 462.4 112.2 462.4 108.6 462.3 115.1 462.2 115.5 461.5 114.9 461.5 110.4 461.5 112.4 461.5 111.4 461.4 114.3 461.4 113.5"/>
</g>
<line x1="454.3" y1="112.6" x2="769.1" y2="98.3" stroke="#222" stroke-width="1.1" stroke-dasharray="4 3"/>
<line x1="454.3" y1="114.2" x2="769.1" y2="106.6" stroke="#222" stroke-width="1.1" stroke-dasharray="4 3"/>
<line x1="454.3" y1="117.8" x2="769.1" y2="137.2" stroke="#222" stroke-width="1.1" stroke-dasharray="4 3"/>
<line x1="454.3" y1="118.9" x2="769.1" y2="148.7" stroke="#222" stroke-width="1.1" stroke-dasharray="4 3"/>
<rect x="58.4" y="5.4" width="315.1" height="252.9" fill="none" stroke="#000" stroke-width="1.3"/>
<path stroke="#000" stroke-width="1.1" fill="none" d="M58.4 258.3v4.5M58.4 5.4v4.5M84.7 258.3v4.5M84.7 5.4v4.5M110.9 258.3v4.5M110.9 5.4v4.5M137.2 258.3v4.5M137.2 5.4v4.5M163.4 258.3v4.5M163.4 5.4v4.5M189.7 258.3v4.5M189.7 5.4v4.5M215.9 258.3v4.5M215.9 5.4v4.5M242.2 258.3v4.5M242.2 5.4v4.5M268.5 258.3v4.5M268.5 5.4v4.5M294.7 258.3v4.5M294.7 5.4v4.5M321.0 258.3v4.5M321.0 5.4v4.5M347.2 258.3v4.5M347.2 5.4v4.5M373.5 258.3v4.5M373.5 5.4v4.5M71.5 258.3v2.6M71.5 5.4v2.6M97.8 258.3v2.6M97.8 5.4v2.6M124.0 258.3v2.6M124.0 5.4v2.6M150.3 258.3v2.6M150.3 5.4v2.6M176.6 258.3v2.6M176.6 5.4v2.6M202.8 258.3v2.6M202.8 5.4v2.6M229.1 258.3v2.6M229.1 5.4v2.6M255.3 258.3v2.6M255.3 5.4v2.6M281.6 258.3v2.6M281.6 5.4v2.6M307.9 258.3v2.6M307.9 5.4v2.6M334.1 258.3v2.6M334.1 5.4v2.6M360.4 258.3v2.6M360.4 5.4v2.6M58.4 245.2h-4.5M373.5 245.2h-4.5M58.4 219.9h-4.5M373.5 219.9h-4.5M58.4 194.7h-4.5M373.5 194.7h-4.5M58.4 169.4h-4.5M373.5 169.4h-4.5M58.4 144.2h-4.5M373.5 144.2h-4.5M58.4 118.9h-4.5M373.5 118.9h-4.5M58.4 93.7h-4.5M373.5 93.7h-4.5M58.4 68.4h-4.5M373.5 68.4h-4.5M58.4 43.2h-4.5M373.5 43.2h-4.5M58.4 17.9h-4.5M373.5 17.9h-4.5M58.4 232.5h-2.6M373.5 232.5h-2.6M58.4 207.3h-2.6M373.5 207.3h-2.6M58.4 182.0h-2.6M373.5 182.0h-2.6M58.4 156.8h-2.6M373.5 156.8h-2.6M58.4 131.5h-2.6M373.5 131.5h-2.6M58.4 106.3h-2.6M373.5 106.3h-2.6M58.4 81.0h-2.6M373.5 81.0h-2.6M58.4 55.8h-2.6M373.5 55.8h-2.6M58.4 30.5h-2.6M373.5 30.5h-2.6"/>
<text x="58.4" y="275.2" text-anchor="middle" class="tl">0</text>
<text x="84.7" y="275.2" text-anchor="middle" class="tl">2</text>
<text x="110.9" y="275.2" text-anchor="middle" class="tl">4</text>
<text x="137.2" y="275.2" text-anchor="middle" class="tl">6</text>
<text x="163.4" y="275.2" text-anchor="middle" class="tl">8</text>
<text x="189.7" y="275.2" text-anchor="middle" class="tl">10</text>
<text x="215.9" y="275.2" text-anchor="middle" class="tl">12</text>
<text x="242.2" y="275.2" text-anchor="middle" class="tl">14</text>
<text x="268.5" y="275.2" text-anchor="middle" class="tl">16</text>
<text x="294.7" y="275.2" text-anchor="middle" class="tl">18</text>
<text x="321.0" y="275.2" text-anchor="middle" class="tl">20</text>
<text x="347.2" y="275.2" text-anchor="middle" class="tl">22</text>
<text x="373.5" y="275.2" text-anchor="middle" class="tl">24</text>
<text x="49.8" y="248.8" text-anchor="end" class="tl">-30</text>
<text x="49.8" y="223.5" text-anchor="end" class="tl">-20</text>
<text x="49.8" y="198.2" text-anchor="end" class="tl">-10</text>
<text x="49.8" y="173.0" text-anchor="end" class="tl">0</text>
<text x="49.8" y="147.8" text-anchor="end" class="tl">10</text>
<text x="49.8" y="122.5" text-anchor="end" class="tl">20</text>
<text x="49.8" y="97.2" text-anchor="end" class="tl">30</text>
<text x="49.8" y="72.0" text-anchor="end" class="tl">40</text>
<text x="49.8" y="46.8" text-anchor="end" class="tl">50</text>
<text x="49.8" y="21.5" text-anchor="end" class="tl">60</text>
<path fill="#fff" d="M183.60 273.64h2.86v2.91h-2.86zM187.50 273.64h2.08v2.91h-2.08zM186.46 275.51h1.04v1.04h-1.04zM209.85 273.64h2.86v2.91h-2.86zM213.75 273.64h2.08v2.91h-2.08zM212.71 275.51h1.04v1.04h-1.04zM236.11 273.64h2.86v2.91h-2.86zM240.01 273.64h2.08v2.91h-2.08zM238.97 275.51h1.04v1.04h-1.04zM262.37 273.64h2.86v2.91h-2.86zM266.27 273.64h2.08v2.91h-2.08zM265.23 275.51h1.04v1.04h-1.04zM288.63 273.64h2.86v2.91h-2.86zM292.53 273.64h2.08v2.91h-2.08zM291.49 275.51h1.04v1.04h-1.04zM37.92 196.69h2.86v2.91h-2.86zM41.82 196.69h2.08v2.91h-2.08zM40.78 198.56h1.04v1.04h-1.04zM37.92 146.19h2.86v2.91h-2.86zM41.82 146.19h2.08v2.91h-2.08zM40.78 148.06h1.04v1.04h-1.04z"/>
<rect x="454.3" y="6.2" width="314.8" height="252.3" fill="none" stroke="#000" stroke-width="1.3"/>
<path stroke="#000" stroke-width="1.1" fill="none" d="M499.3 258.5v4.5M499.3 6.2v4.5M589.2 258.5v4.5M589.2 6.2v4.5M679.1 258.5v4.5M679.1 6.2v4.5M769.1 258.5v4.5M769.1 6.2v4.5M454.3 258.5v2.6M454.3 6.2v2.6M544.2 258.5v2.6M544.2 6.2v2.6M634.2 258.5v2.6M634.2 6.2v2.6M724.1 258.5v2.6M724.1 6.2v2.6M454.3 258.2h-4.5M769.1 258.2h-4.5M454.3 222.2h-4.5M769.1 222.2h-4.5M454.3 186.2h-4.5M769.1 186.2h-4.5M454.3 150.2h-4.5M769.1 150.2h-4.5M454.3 114.2h-4.5M769.1 114.2h-4.5M454.3 78.2h-4.5M769.1 78.2h-4.5M454.3 42.2h-4.5M769.1 42.2h-4.5M454.3 6.2h-4.5M769.1 6.2h-4.5M454.3 240.2h-2.6M769.1 240.2h-2.6M454.3 204.2h-2.6M769.1 204.2h-2.6M454.3 168.2h-2.6M769.1 168.2h-2.6M454.3 132.2h-2.6M769.1 132.2h-2.6M454.3 96.2h-2.6M769.1 96.2h-2.6M454.3 60.2h-2.6M769.1 60.2h-2.6M454.3 24.2h-2.6M769.1 24.2h-2.6"/>
<text x="499.3" y="276.1" text-anchor="middle" class="tl">1</text>
<text x="589.2" y="276.1" text-anchor="middle" class="tl">2</text>
<text x="679.1" y="276.1" text-anchor="middle" class="tl">3</text>
<text x="769.1" y="276.1" text-anchor="middle" class="tl">4</text>
<text x="445.7" y="261.8" text-anchor="end" class="tl">-4</text>
<text x="445.7" y="225.8" text-anchor="end" class="tl">-3</text>
<text x="445.7" y="189.8" text-anchor="end" class="tl">-2</text>
<text x="445.7" y="153.8" text-anchor="end" class="tl">-1</text>
<text x="445.7" y="117.8" text-anchor="end" class="tl">0</text>
<text x="445.7" y="81.8" text-anchor="end" class="tl">1</text>
<text x="445.7" y="45.8" text-anchor="end" class="tl">2</text>
<text x="445.7" y="9.8" text-anchor="end" class="tl">3</text>
<path fill="#fff" d="M496.07 274.54h2.86v2.91h-2.86zM499.97 274.54h2.08v2.91h-2.08zM498.93 276.41h1.04v1.04h-1.04zM439.61 152.24h2.86v2.91h-2.86zM443.51 152.24h2.08v2.91h-2.08zM442.47 154.11h1.04v1.04h-1.04zM439.61 80.24h2.86v2.91h-2.86zM443.51 80.24h2.08v2.91h-2.08zM442.47 82.11h1.04v1.04h-1.04z"/>
<g transform="translate(0,0)">
<text x="196.4" y="126.2" class="lg">35 nm F<tspan class="sub" dy="3">40</tspan><tspan dy="-3">PcCu:</tspan></text>
<text x="196.4" y="143.2" class="lg">50 nm F<tspan class="sub" dy="3">40</tspan><tspan dy="-3">PcCu:</tspan></text>
<rect x="292.40" y="119.70" width="4.6" height="4.6" fill="#1a3cff"/>
<circle cx="294.7" cy="139.2" r="2.55" fill="#ff0000"/>
<rect x="333.40" y="120.10" width="3.80" height="3.80" fill="none" stroke="#2a4cff" stroke-width="0.9" stroke-opacity="0.6"/>
<circle cx="335.3" cy="139.2" r="2.5" fill="none" stroke="#ff2050" stroke-width="0.9" stroke-opacity="0.6"/>
<text x="311.0" y="126.5" class="lg"><tspan font-style="italic" style="font-size:13px">j</tspan><tspan class="sub" dy="3">a</tspan></text>
<text x="351.7" y="126.5" class="lg"><tspan font-style="italic" style="font-size:13px">j</tspan><tspan class="sub" dy="3">c</tspan></text>
<text x="311.0" y="143.5" class="lg"><tspan font-style="italic" style="font-size:13px">j</tspan><tspan class="sub" dy="3">a</tspan></text>
<text x="351.7" y="143.5" class="lg"><tspan font-style="italic" style="font-size:13px">j</tspan><tspan class="sub" dy="3">c</tspan></text>
<line x1="195.8" y1="157" x2="223" y2="157" stroke="#333" stroke-width="1" stroke-dasharray="3.6 2.2"/>
<text x="226" y="160.4" class="lg">Linear Fits</text>
</g>
<g transform="translate(276,-91)">
<text x="196.4" y="126.2" class="lg">35 nm F<tspan class="sub" dy="3">40</tspan><tspan dy="-3">PcCu:</tspan></text>
<text x="196.4" y="143.2" class="lg">50 nm F<tspan class="sub" dy="3">40</tspan><tspan dy="-3">PcCu:</tspan></text>
<rect x="292.40" y="119.70" width="4.6" height="4.6" fill="#1a3cff"/>
<circle cx="294.7" cy="139.2" r="2.55" fill="#ff0000"/>
<rect x="333.40" y="120.10" width="3.80" height="3.80" fill="none" stroke="#2a4cff" stroke-width="0.9" stroke-opacity="0.6"/>
<circle cx="335.3" cy="139.2" r="2.5" fill="none" stroke="#ff2050" stroke-width="0.9" stroke-opacity="0.6"/>
<text x="311.0" y="126.5" class="lg"><tspan font-style="italic" style="font-size:13px">j</tspan><tspan class="sub" dy="3">a</tspan></text>
<text x="351.7" y="126.5" class="lg"><tspan font-style="italic" style="font-size:13px">j</tspan><tspan class="sub" dy="3">c</tspan></text>
<text x="311.0" y="143.5" class="lg"><tspan font-style="italic" style="font-size:13px">j</tspan><tspan class="sub" dy="3">a</tspan></text>
<text x="351.7" y="143.5" class="lg"><tspan font-style="italic" style="font-size:13px">j</tspan><tspan class="sub" dy="3">c</tspan></text>
<line x1="195.8" y1="157" x2="223" y2="157" stroke="#333" stroke-width="1" stroke-dasharray="3.6 2.2"/>
<text x="226" y="160.4" class="lg">Linear Fits</text>
</g>
<text x="1" y="18" class="pl">(a)</text>
<text x="397.6" y="19.6" class="pl" style="font-size:20.6px">(b)</text>
<text transform="translate(28.8,207.2) rotate(-90)" class="at at2">Current Density / mA cm<tspan class="sup" dy="-4.8">-2</tspan></text>
<text transform="translate(430.0,207.8) rotate(-90)" class="at at2">Current Density / mA cm<tspan class="sup" dy="-4.8">-2</tspan></text>
<text x="177.4" y="296.3" class="at">Time<tspan class="sup" dy="-4.8">-1/2</tspan><tspan dy="4.8"> / s</tspan><tspan class="sup" dy="-4.8">-1/2</tspan></text>
<text x="573.6" y="297.1" class="at">Time<tspan class="sup" dy="-4.8">-1/2</tspan><tspan dy="4.8"> / s</tspan><tspan class="sup" dy="-4.8">-1/2</tspan></text>
</svg>
</body></html>
